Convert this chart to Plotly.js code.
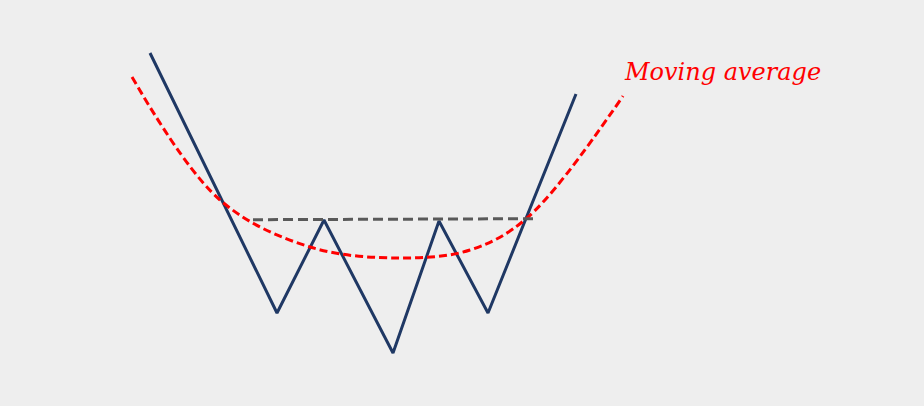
<!DOCTYPE html>
<html>
<head>
<meta charset="utf-8">
<script src="https://cdn.plot.ly/plotly-3.0.1.min.js"></script>
<style>
  html, body { margin: 0; padding: 0; background: #eeeeee; }
  #chart { width: 924px; height: 406px; }
</style>
</head>
<body>
<div id="chart"></div>
<script>
// price path (inverse head and shoulders)
const priceX = [150, 277, 324, 393, 439, 488, 576];
const priceY = [353, 93, 186, 53, 185, 93, 312];

// moving average curve
const maX = [132, 220, 310, 400, 470, 527, 623];
const maY = [329, 206, 159, 148, 156, 188, 310];

// neckline
const neckX = [253, 535];
const neckY = [186.3, 187.3];

const price = {
  x: priceX, y: priceY,
  type: 'scatter', mode: 'lines',
  line: { color: '#1f3864', width: 3 },
  hoverinfo: 'skip'
};

const ma = {
  x: maX, y: maY,
  type: 'scatter', mode: 'lines',
  line: { color: '#ff0000', width: 3, dash: '8px,4px', shape: 'spline', smoothing: 1 },
  hoverinfo: 'skip'
};

const neck = {
  x: neckX, y: neckY,
  type: 'scatter', mode: 'lines',
  line: { color: '#595959', width: 3, dash: '10px,5px' },
  hoverinfo: 'skip'
};

const layout = {
  width: 924, height: 406,
  margin: { l: 0, r: 0, t: 0, b: 0 },
  paper_bgcolor: '#eeeeee',
  plot_bgcolor: '#eeeeee',
  showlegend: false,
  xaxis: { range: [0, 924], visible: false, fixedrange: true },
  yaxis: { range: [0, 406], visible: false, fixedrange: true },
  annotations: [{
    x: 622, y: 334, xref: 'x', yref: 'y',
    xanchor: 'left', yanchor: 'middle',
    text: 'Moving average', showarrow: false,
    font: { family: 'DejaVu Serif', size: 24, color: '#ff0000', style: 'italic' }
  }]
};

Plotly.newPlot('chart', [price, ma, neck], layout, { staticPlot: true });
</script>
</body>
</html>
